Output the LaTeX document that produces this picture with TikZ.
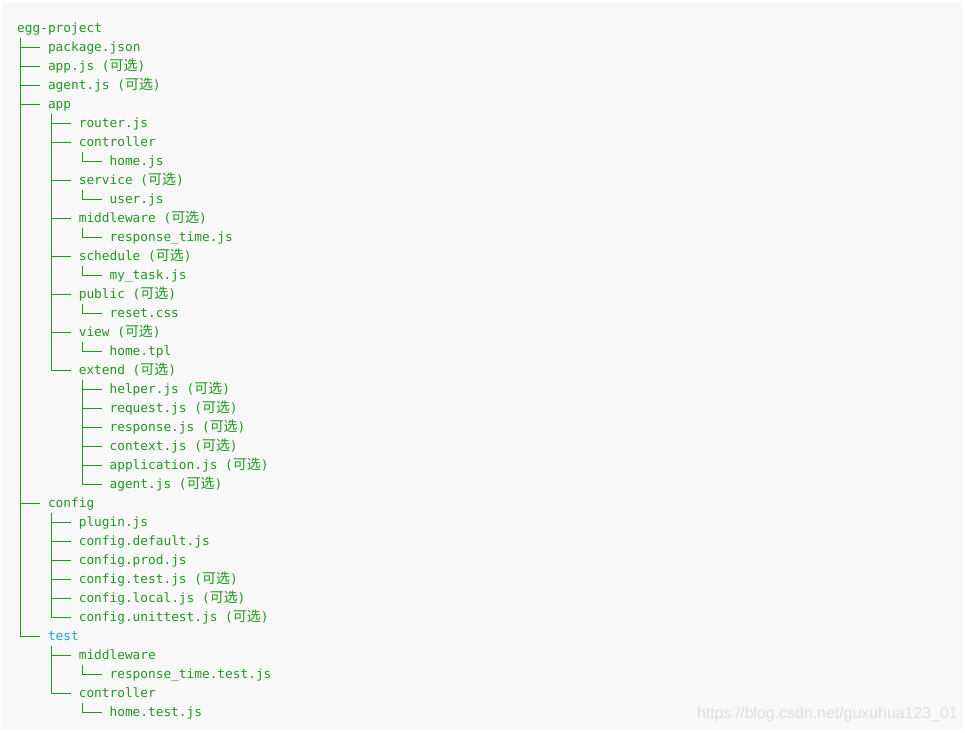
\documentclass[tikz,border=0pt]{standalone}
\usepackage{fontspec}
\setmainfont{Liberation Sans}
\setmonofont{DejaVu Sans Mono}
\newfontfamily\cjk{Noto Sans CJK SC}[Scale=1.09]
\usetikzlibrary{positioning}
\definecolor{treegreen}{RGB}{32,152,32}
\definecolor{dirblue}{RGB}{28,162,222}
\definecolor{codebg}{RGB}{248,248,248}
\tikzstyle{entry} = [anchor=west, inner sep=0pt, text height=8pt, text depth=0pt,
    text=treegreen, font=\ttfamily\fontsize{12.8}{15}\selectfont]
\tikzstyle{branch} = [draw=treegreen, line width=0.9pt, shorten >=7.7pt]
\tikzstyle{watermark} = [anchor=east, inner sep=0pt, text=black!12, font=\fontsize{15.9}{17}\selectfont]
\newcommand\kexuan{({\cjk 可选})}

\begin{document}
\begin{tikzpicture}[x=1pt,y=-1pt]
\useasboundingbox (0,0) rectangle (965,732);
\fill[codebg] (2,3) rectangle (962,730);

% project root
\node[entry] (root) at (17,28) {egg-project};
\node[entry] (pkg) at (47.8,47) {package.json};
\node[entry] (appjs) at (47.8,66) {app.js \kexuan};
\node[entry] (agentjs) at (47.8,85) {agent.js \kexuan};
\node[entry] (app) at (47.8,104) {app};
% app folder
\node[entry] (router) at (78.6,123) {router.js};
\node[entry] (ctrl) at (78.6,142) {controller};
\node[entry] (homejs) at (109.4,161) {home.js};
\node[entry] (service) at (78.6,180) {service \kexuan};
\node[entry] (userjs) at (109.4,199) {user.js};
\node[entry] (mw) at (78.6,218) {middleware \kexuan};
\node[entry] (rtime) at (109.4,237) {response\_time.js};
\node[entry] (sched) at (78.6,256) {schedule \kexuan};
\node[entry] (task) at (109.4,275) {my\_task.js};
\node[entry] (public) at (78.6,294) {public \kexuan};
\node[entry] (reset) at (109.4,313) {reset.css};
\node[entry] (view) at (78.6,332) {view \kexuan};
\node[entry] (tpl) at (109.4,351) {home.tpl};
\node[entry] (extend) at (78.6,370) {extend \kexuan};
\node[entry] (helper) at (109.4,389) {helper.js \kexuan};
\node[entry] (request) at (109.4,408) {request.js \kexuan};
\node[entry] (response) at (109.4,427) {response.js \kexuan};
\node[entry] (context) at (109.4,446) {context.js \kexuan};
\node[entry] (application) at (109.4,465) {application.js \kexuan};
\node[entry] (agentext) at (109.4,484) {agent.js \kexuan};
% config folder
\node[entry] (config) at (47.8,503) {config};
\node[entry] (plugin) at (78.6,522) {plugin.js};
\node[entry] (cdefault) at (78.6,541) {config.default.js};
\node[entry] (cprod) at (78.6,560) {config.prod.js};
\node[entry] (ctest) at (78.6,579) {config.test.js \kexuan};
\node[entry] (clocal) at (78.6,598) {config.local.js \kexuan};
\node[entry] (cunit) at (78.6,617) {config.unittest.js \kexuan};
% test folder
\node[entry, text=dirblue] (test) at (47.8,636) {test};
\node[entry] (tmw) at (78.6,655) {middleware};
\node[entry] (trtime) at (109.4,674) {response\_time.test.js};
\node[entry] (tctrl) at (78.6,693) {controller};
\node[entry] (thome) at (109.4,712) {home.test.js};

% tree branches
\foreach \p/\c in {root/pkg, root/appjs, root/agentjs, root/app, root/config, root/test,
    app/router, app/ctrl, app/service, app/mw, app/sched, app/public, app/view, app/extend,
    ctrl/homejs, service/userjs, mw/rtime, sched/task, public/reset, view/tpl,
    extend/helper, extend/request, extend/response, extend/context, extend/application, extend/agentext,
    config/plugin, config/cdefault, config/cprod, config/ctest, config/clocal, config/cunit,
    test/tmw, test/tctrl, tmw/trtime, tctrl/thome}
  \draw[branch] ([xshift=3.85pt,yshift=-9.5pt]\p.west) |- (\c.west);

\node[watermark] (mark) at (958,714) {https://blog.csdn.net/guxuhua123\_01};
\end{tikzpicture}
\end{document}
